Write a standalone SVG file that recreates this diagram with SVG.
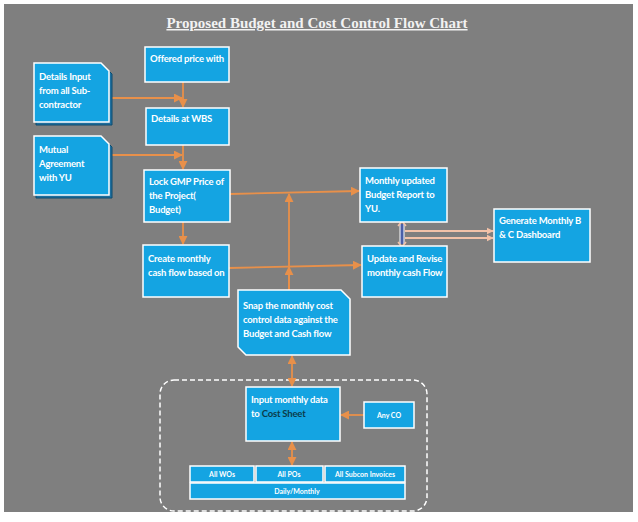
<svg xmlns="http://www.w3.org/2000/svg" width="638" height="522" viewBox="0 0 638 522">
<defs>
<style>
.b{fill:#14a4e2;stroke:#fff;stroke-width:1.5}
.s{fill:#1e6f9e;stroke:#0d4d70;stroke-width:1}
.t{font-family:Lato,"Open Sans",sans-serif;font-weight:bold;font-size:9.5px;letter-spacing:-0.2px;fill:#fff}
.st{font-family:Lato,"Open Sans",sans-serif;font-weight:bold;font-size:7px;fill:#fff}
.c{stroke:#e8904a;stroke-width:1.8;fill:none}
</style>
<marker id="a" viewBox="0 0 10 10" refX="9" refY="5" markerWidth="5" markerHeight="5" orient="auto-start-reverse"><path d="M0,0L10,5L0,10z" fill="#e8904a"/></marker>
<marker id="p" viewBox="0 0 10 10" refX="9" refY="5" markerWidth="4" markerHeight="4" orient="auto-start-reverse"><path d="M0,0L10,5L0,10z" fill="#f3c2a8"/></marker>
</defs>
<rect x="0" y="0" width="638" height="522" fill="#fff"/>
<rect x="4" y="4" width="629" height="508" fill="#7f7f7f"/>
<text x="317" y="28" text-anchor="middle" font-family="Liberation Serif,serif" font-weight="bold" font-size="15" fill="#f2f2f2" text-decoration="underline">Proposed Budget and Cost Control Flow Chart</text>
<rect x="160" y="380" width="267" height="131" rx="14" fill="none" stroke="#fff" stroke-width="1.5" stroke-dasharray="5,3"/>
<g id="connectors">
<path class="c" d="M183 82V107" marker-end="url(#a)"/>
<path class="c" d="M109 98H182" marker-end="url(#a)"/>
<path class="c" d="M183 145V169" marker-end="url(#a)"/>
<path class="c" d="M109 155H182" marker-end="url(#a)"/>
<path class="c" d="M183 222V244" marker-end="url(#a)"/>
<path class="c" d="M230 194L359 191" marker-end="url(#a)"/>
<path class="c" d="M229 268L361 265" marker-end="url(#a)"/>
<path class="c" d="M289 290V194" marker-end="url(#a)"/>
<path class="c" d="M289 290V267" marker-end="url(#a)"/>
<path d="M402 224V244" stroke="#fff" stroke-width="5" fill="none"/>
<path d="M402 224V244" stroke="#4a5fa8" stroke-width="3" fill="none"/>
<path d="M398 226L402 221L406 226M398 242L402 247L406 242" stroke="#f3c2a8" stroke-width="1.5" fill="none"/>
<path d="M405 231H493" stroke="#f3c2a8" stroke-width="1.8" fill="none" marker-end="url(#p)"/>
<path d="M405 238H493" stroke="#f3c2a8" stroke-width="1.8" fill="none" marker-end="url(#p)"/>
<path class="c" d="M292 356V386" marker-start="url(#a)" marker-end="url(#a)"/>
<path class="c" d="M364 415H341" marker-end="url(#a)"/>
<path class="c" d="M292 442V465" marker-start="url(#a)" marker-end="url(#a)"/>
</g>
<g id="n1"><rect class="b" x="145" y="47" width="84" height="35"/><text class="t" x="150" y="62">Offered price with</text></g>
<g id="n2"><path class="s" d="M36 66H104L112 74V125H36z"/><path class="b" d="M34 63H101L109 71V122H34z"/><text class="t" x="39" y="80">Details Input</text><text class="t" x="39" y="94">from all Sub-</text><text class="t" x="39" y="108">contractor</text></g>
<g id="n3"><rect class="b" x="146" y="108" width="83" height="37"/><text class="t" x="151" y="122">Details at WBS</text></g>
<g id="n4"><path class="s" d="M36 139H104L112 147V198H36z"/><path class="b" d="M34 136H101L109 144V195H34z"/><text class="t" x="39" y="153">Mutual</text><text class="t" x="39" y="167">Agreement</text><text class="t" x="39" y="181">with YU</text></g>
<g id="n5"><rect class="b" x="144" y="170" width="86" height="52"/><text class="t" x="149" y="185">Lock GMP Price of</text><text class="t" x="149" y="199">the Project(</text><text class="t" x="149" y="213">Budget)</text></g>
<g id="n6"><rect class="b" x="143" y="245" width="86" height="52"/><text class="t" x="148" y="262">Create monthly</text><text class="t" x="148" y="276">cash flow based on</text></g>
<g id="n7"><rect class="b" x="360" y="168" width="87" height="54"/><text class="t" x="365" y="184">Monthly updated</text><text class="t" x="365" y="198">Budget Report to</text><text class="t" x="365" y="212">YU.</text></g>
<g id="n8"><rect class="b" x="362" y="246" width="85" height="51"/><text class="t" x="367" y="262">Update and Revise</text><text class="t" x="367" y="276">monthly cash Flow</text></g>
<g id="n9"><rect class="b" x="494" y="209" width="96" height="53"/><text class="t" x="499" y="224">Generate Monthly B</text><text class="t" x="499" y="238">&amp; C Dashboard</text></g>
<g id="n10"><path class="b" d="M238 290H341L350 299V355H246L238 347z"/><text class="t" x="243" y="309">Snap the monthly cost</text><text class="t" x="243" y="323">control data against the</text><text class="t" x="243" y="337">Budget and Cash flow</text></g>
<g id="n11"><rect class="b" x="246" y="387" width="94" height="54"/><text class="t" x="251" y="403">Input monthly data</text><text class="t" x="251" y="417">to <tspan fill="#0b3b4a">Cost Sheet</tspan></text></g>
<g id="n12"><rect class="b" x="364" y="402" width="50" height="26"/><text class="st" x="389" y="418" text-anchor="middle">Any CO</text></g>
<g id="n13"><rect class="b" x="190" y="466" width="64" height="16"/><text class="st" x="222" y="477" text-anchor="middle">All WOs</text></g>
<g id="n14"><rect class="b" x="256" y="466" width="67" height="16"/><text class="st" x="289" y="477" text-anchor="middle">All POs</text></g>
<g id="n15"><rect class="b" x="325" y="466" width="80" height="16"/><text class="st" x="365" y="477" text-anchor="middle">All Subcon Invoices</text></g>
<g id="n16"><rect class="b" x="190" y="483" width="215" height="16"/><text class="st" x="297" y="494" text-anchor="middle">Daily/Monthly</text></g>
</svg>
